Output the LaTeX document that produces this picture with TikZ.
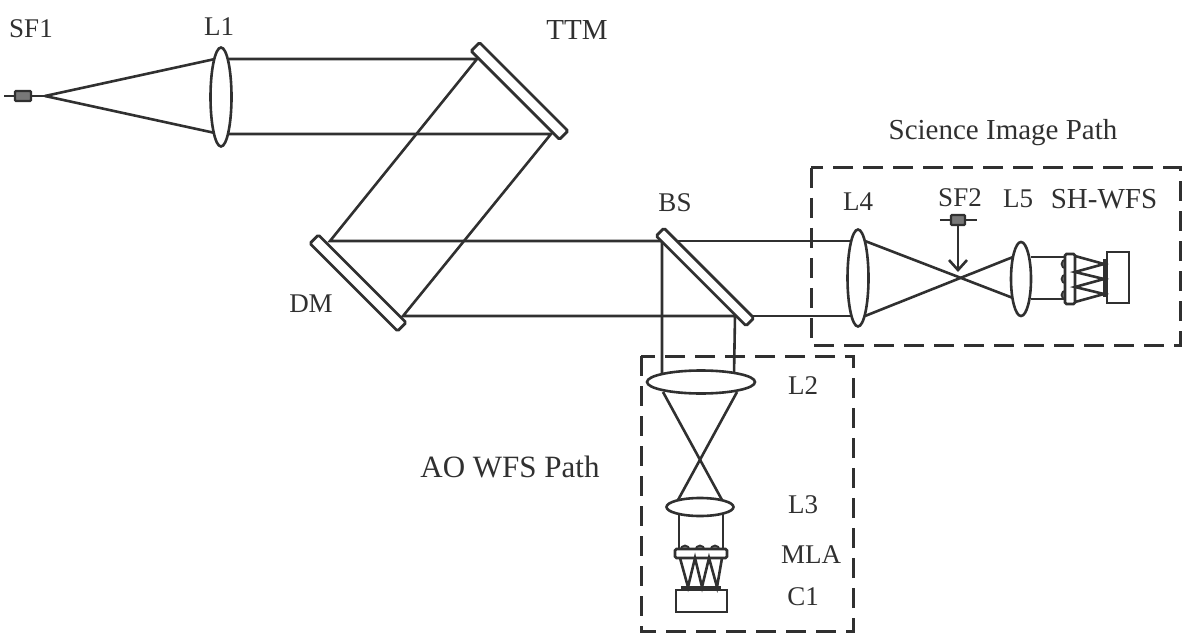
\documentclass[tikz,border=0pt]{standalone}
\usepackage{fontspec}
\setmainfont{Liberation Serif}
\usetikzlibrary{shapes.geometric,arrows.meta}
\definecolor{ink}{HTML}{303030}
\tikzset{
  x=1pt,y=-1pt,
  ray/.style={draw=ink,line width=2.6pt},
  lens/.style={ellipse,draw=ink,fill=white,line width=2.6pt,inner sep=0pt},
  mirror/.style={rectangle,rounded corners=1.5pt,draw=ink,fill=white,line width=2.8pt,inner sep=0pt},
  part/.style={rectangle,draw=ink,fill=white,line width=2.6pt,inner sep=0pt},
  pinhole/.style={rectangle,rounded corners=1pt,draw=ink,fill=ink!65,line width=2.4pt,inner sep=0pt},
  bar/.style={rectangle,fill=ink,inner sep=0pt},
  bump/.style={circle,draw=ink,fill=ink!60,line width=1.8pt,inner sep=0pt,minimum size=9pt},
  pathbox/.style={draw=ink,line width=3pt,dash pattern=on 20pt off 10pt},
  lab/.style={text=ink,font=\fontsize{27}{27}\selectfont,inner sep=0pt,anchor=center},
  labw/.style={lab,font=\fontsize{29}{29}\selectfont},
  labx/.style={lab,font=\fontsize{31}{31}\selectfont}
}
\begin{document}
\begin{tikzpicture}
\useasboundingbox (0,0) rectangle (1182,636);
% named points
\coordinate (sfa) at (4,96);
\coordinate (sfb) at (45,96);
\coordinate (l1il) at (215,59);
\coordinate (l1ih) at (215,133);
\coordinate (l1ol) at (229,59);
\coordinate (l1oh) at (229,134);
\coordinate (ttma) at (477,59);
\coordinate (ttmb) at (551,134);
\coordinate (dma) at (330,241);
\coordinate (dmb) at (403,316);
\coordinate (bsa) at (662,241);
\coordinate (bsb) at (735,316);
\coordinate (bsc) at (668,241);
\coordinate (bsd) at (752,316);
\coordinate (l4a) at (852,241);
\coordinate (l4b) at (852,316);
\coordinate (l4c) at (865,241);
\coordinate (l4d) at (865,316);
\coordinate (l5a) at (1013,298);
\coordinate (l5b) at (1013,257);
\coordinate (l5c) at (1031,257);
\coordinate (l5d) at (1031,299);
\coordinate (mlaa) at (1066,257);
\coordinate (mlab) at (1066,299);
\coordinate (l2a) at (662,375);
\coordinate (l2b) at (734,375);
\coordinate (l2c) at (663,392);
\coordinate (l2d) at (737,392);
\coordinate (l3a) at (722,500);
\coordinate (l3b) at (678,500);
\coordinate (l3c) at (679,512);
\coordinate (l3d) at (723,512);
\coordinate (mlc) at (679,548);
\coordinate (mld) at (723,548);
\coordinate (sfarrow) at (958,272);
\coordinate (sf2a) at (940,220);
\coordinate (sf2b) at (977,220);
% beams
\draw[ray] (sfa) -- (sfb);
\draw[ray] (sfb) -- (l1il);
\draw[ray] (sfb) -- (l1ih);
\draw[ray] (l1ol) -- (ttma) -- (dma) -- (bsa) -- (l2a);
\draw[ray] (l1oh) -- (ttmb) -- (dmb) -- (bsb) -- (l2b);
\draw[ray] (bsc) -- (l4a);
\draw[ray] (bsd) -- (l4b);
\draw[ray] (l4c) -- (l5a);
\draw[ray] (l4d) -- (l5b);
\draw[ray] (l5c) -- (mlaa);
\draw[ray] (l5d) -- (mlab);
\draw[ray] (l2c) -- (l3a);
\draw[ray] (l2d) -- (l3b);
\draw[ray] (l3c) -- (mlc);
\draw[ray] (l3d) -- (mld);
% sources
\node[pinhole,minimum width=16pt,minimum height=10pt] (sf1) at (23,96) {};
\draw[ray] (sf2a) -- (sf2b);
\node[pinhole,minimum width=14pt,minimum height=10pt] (sf2) at (958,220) {};
\draw[ray,-{Straight Barb[length=10pt,width=18pt,line width=2.6pt]}] (sf2) -- (sfarrow);
% optics
\node[lens,minimum width=21pt,minimum height=99pt] (l1) at (221,97) {};
\node[mirror,rotate=-45,minimum width=125pt,minimum height=12pt] (ttm) at (519.5,91) {};
\node[mirror,rotate=-45,minimum width=124pt,minimum height=12pt] (dm) at (358,283) {};
\node[mirror,rotate=-45,minimum width=127pt,minimum height=11pt] (bs) at (705,277) {};
\node[lens,minimum width=21pt,minimum height=97pt] (l4) at (858,278) {};
\node[lens,minimum width=20pt,minimum height=74pt] (l5) at (1021,279) {};
\node[lens,minimum width=108pt,minimum height=23pt] (l2) at (701,382) {};
\node[lens,minimum width=67pt,minimum height=18pt] (l3) at (700,507) {};
% SH-WFS
\node[bump] (sa) at (1066,264) {};
\node[bump] (sb) at (1066,279) {};
\node[bump] (sc) at (1066,295) {};
\node[mirror,minimum width=10pt,minimum height=50pt] (smla) at (1070,279) {};
\node[part,minimum width=22pt,minimum height=51pt] (ssens) at (1118,277.5) {};
\node[bar,minimum width=5pt,minimum height=38pt] (sbar) at (1105,278) {};
\coordinate (s0) at (1075,256);
\coordinate (s1) at (1075,272);
\coordinate (s2) at (1075,287);
\coordinate (s3) at (1075,302);
\coordinate (t0) at (1104,264);
\coordinate (t1) at (1104,279);
\coordinate (t2) at (1104,294);
\draw[ray] (s0) -- (t0) -- (s1) -- (t1) -- (s2) -- (t2) -- (s3);
% C1 group
\node[bump] (ma) at (685,550) {};
\node[bump] (mb) at (700,550) {};
\node[bump] (mc) at (715,550) {};
\node[mirror,minimum width=52pt,minimum height=9pt] (mla) at (701,553.5) {};
\node[part,minimum width=51pt,minimum height=22pt] (c1) at (701.5,601) {};
\node[bar,minimum width=40pt,minimum height=4pt] (cbar) at (701,588) {};
\coordinate (u0) at (680,558);
\coordinate (u1) at (695,558);
\coordinate (u2) at (709,558);
\coordinate (u3) at (722,558);
\coordinate (v0) at (688,587);
\coordinate (v1) at (702,587);
\coordinate (v2) at (717,587);
\draw[ray] (u0) -- (v0) -- (u1) -- (v1) -- (u2) -- (v2) -- (u3);
% dashed boxes
\draw[pathbox] (811,168) rectangle (1180,345);
\draw[pathbox] (641,356) rectangle (853,631);
% labels
\node[lab] (tsf1) at (31,29) {SF1};
\node[lab] (tl1) at (219,27) {L1};
\node[labw] (tttm) at (577,30) {TTM};
\node[labw] (tsip) at (1003,133) {Science Image Path};
\node[lab] (tbs) at (675,203) {BS};
\node[lab] (tl4) at (858,202) {L4};
\node[lab] (tsf2) at (960,198) {SF2};
\node[lab] (tl5) at (1018,199) {L5};
\node[labw] (tsh) at (1104,199) {SH-WFS};
\node[lab] (tdm) at (311,304) {DM};
\node[lab] (tl2) at (803,386) {L2};
\node[labx] (taow) at (510,467) {AO WFS Path};
\node[lab] (tl3) at (803,505) {L3};
\node[lab] (tmla) at (811,555) {MLA};
\node[lab] (tc1) at (803,597) {C1};
\end{tikzpicture}
\end{document}
